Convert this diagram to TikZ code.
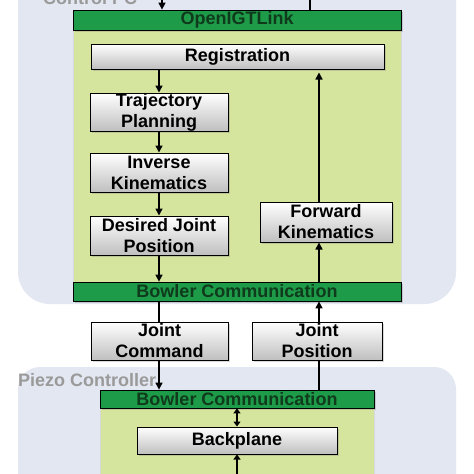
\documentclass[tikz,border=0pt]{standalone}
\usepackage{fontspec}
\setmainfont{Liberation Sans}
\usetikzlibrary{shadows,arrows.meta,calc}
\definecolor{pcblue}{HTML}{E3E7F1}
\definecolor{panelgreen}{HTML}{D5E59E}
\definecolor{bargreen}{HTML}{1E9B48}
\definecolor{bartext}{HTML}{0F3A1C}
\definecolor{labelgrey}{HTML}{9A9A9A}
\begin{document}
\begin{tikzpicture}[x=1pt,y=-1pt,
  font=\bfseries\fontsize{18}{21}\selectfont,
  box/.style={draw=black, line width=1pt, top color=white, bottom color=black!25,
    align=center, inner sep=0pt,
    drop shadow={opacity=0.3, shadow xshift=1.5pt, shadow yshift=-1.5pt}},
  bar/.style={draw=black, line width=0.8pt, fill=bargreen, text=bartext, inner sep=0pt,
    drop shadow={opacity=0.3, shadow xshift=1.5pt, shadow yshift=-1.5pt}},
  panel/.style={fill=panelgreen, draw=black!15, line width=0.5pt},
  outer/.style={fill=pcblue},
  grouplabel/.style={text=labelgrey, inner sep=0pt},
  arr/.style={-{Triangle[length=7pt,width=7pt]}, line width=1.5pt},
  line/.style={line width=1.5pt},
  darr/.style={{Triangle[length=5pt,width=7pt]}-{Triangle[length=5pt,width=7pt]}, line width=1.5pt},
]
\useasboundingbox (0,0) rectangle (474,474);
\fill[white] (0,0) rectangle (474,474);

% outer groups
\path[outer, rounded corners=32pt] (18,-60) rectangle (456,304);
\path[outer, rounded corners=22pt] (18,367) rectangle (456,540);
\node[grouplabel, anchor=base west] (pclabel) at (43,4) {Control PC};

% upper panel
\path[panel] (73,30) rectangle (401,282);
\node[bar, minimum width=328pt, minimum height=20pt] (igt) at (237,20) {OpenIGTLink};
\node[bar, minimum width=328pt, minimum height=19pt] (bow1) at (237,291.5) {Bowler Communication};

\node[box, minimum width=293pt, minimum height=25pt] (reg) at (237.5,56.5) {Registration};
\node[box, minimum width=138pt, minimum height=38pt] (traj) at (159,112) {Trajectory\\Planning};
\node[box, minimum width=138pt, minimum height=39pt] (inv) at (159,172.5) {Inverse\\Kinematics};
\node[box, minimum width=138pt, minimum height=39pt] (des) at (159,235.5) {Desired Joint\\Position};
\node[box, minimum width=132pt, minimum height=40pt] (fk) at (326,222) {Forward\\Kinematics};

% middle boxes
\node[box, minimum width=137pt, minimum height=38pt] (jc) at (159.5,341) {Joint\\Command};
\node[box, minimum width=130pt, minimum height=38pt] (jp) at (317,341) {Joint\\Position};

% lower group
\node[grouplabel, anchor=base west] (pzlabel) at (18,386) {Piezo Controller};
\path[panel] (100,408) rectangle (374,490);
\node[bar, minimum width=274pt, minimum height=18pt] (bow2) at (237,399) {Bowler Communication};
\node[box, minimum width=200pt, minimum height=27pt] (bp) at (237,440.5) {Backplane};

% connector coordinates
\coordinate (lx) at (159,0);
\coordinate (rx) at (319,0);
\coordinate (topin) at (162,-5);
\coordinate (topout) at (310,-5);
\coordinate (bottom) at (237,480);

% connectors
\draw[arr] (topin) -- (topin |- igt.north);
\draw[line] (topout |- igt.north) -- (topout);
\draw[arr] (lx |- reg.south) -- (lx |- traj.north);
\draw[arr] (lx |- traj.south) -- (lx |- inv.north);
\draw[arr] (lx |- inv.south) -- (lx |- des.north);
\draw[arr] (lx |- des.south) -- (lx |- bow1.north);
\draw[arr] (rx |- bow1.north) -- (rx |- fk.south);
\draw[arr, shorten >=3pt] (rx |- fk.north) -- (rx |- reg.south);
\draw[line] (lx |- bow1.south) -- (lx |- jc.north);
\draw[arr] (lx |- jc.south) -- (lx |- bow2.north);
\draw[line] (rx |- bow2.north) -- (rx |- jp.south);
\draw[arr] (rx |- jp.north) -- (rx |- bow1.south);
\draw[darr] (bow2.south) -- (bp.north);
\draw[darr] (bp.south) -- (bottom);
\end{tikzpicture}
\end{document}
